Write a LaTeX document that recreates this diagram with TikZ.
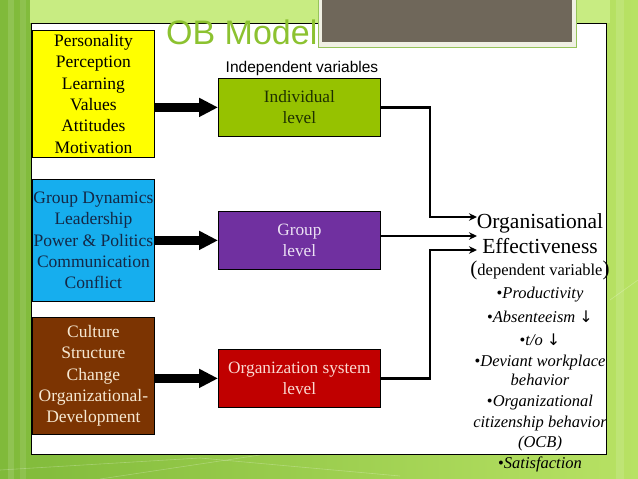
\documentclass[tikz,border=0pt]{standalone}
\usepackage{fontspec}
\setmainfont{Liberation Serif}
\newfontfamily\titlefont{Liberation Sans}
\newfontfamily\arrowfont{DejaVu Sans}
\usetikzlibrary{arrows.meta}
\definecolor{bgL}{RGB}{128,186,58}
\definecolor{bgR}{RGB}{184,226,100}
\definecolor{topband}{RGB}{200,236,130}
\definecolor{titlegreen}{RGB}{140,194,48}
\definecolor{yelfill}{RGB}{255,255,0}
\definecolor{bluefill}{RGB}{22,174,238}
\definecolor{brownfill}{RGB}{124,52,2}
\definecolor{greenfill}{RGB}{150,194,0}
\definecolor{purplefill}{RGB}{112,48,160}
\definecolor{redfill}{RGB}{192,0,0}
\definecolor{darkbluetext}{RGB}{20,40,70}
\definecolor{creamtext}{RGB}{246,232,210}
\definecolor{lavtext}{RGB}{236,226,244}
\definecolor{pinktext}{RGB}{250,218,210}
\definecolor{darkgreentext}{RGB}{30,48,0}
\definecolor{graybox}{RGB}{111,103,90}
\definecolor{creamedge}{RGB}{240,240,228}
\definecolor{greenedge}{RGB}{150,196,90}
\begin{document}
\begin{tikzpicture}[x=1pt,y=-1pt,
  srcbox/.style={draw=black, line width=0.8pt, anchor=north west, inner sep=0pt,
    minimum width=122pt, align=center, font=\fontsize{17.5}{21.3}\selectfont},
  lvlbox/.style={draw=black, line width=0.8pt, anchor=north west, inner sep=0pt,
    minimum width=162pt, minimum height=58pt, align=center, font=\fontsize{17.3}{21}\selectfont},
  bigarrow/.style={line width=8.5pt, -{Triangle[length=19pt,width=18pt]}},
  conn/.style={line width=2.8pt, -{Stealth[length=8pt,width=7.5pt]}},
  dep/.style={anchor=base, inner sep=0pt},
  depit/.style={anchor=base, inner sep=0pt, font=\fontsize{16.5}{20}\selectfont\itshape}]
\useasboundingbox (0,0) rectangle (638,479);
% background
\shade[left color=bgL, right color=bgR] (0,0) rectangle (638,479);
\fill[topband] (30,0) rectangle (610,23);
\fill[white, opacity=0.12] (8,0) rectangle (14,479);
\fill[white, opacity=0.10] (20,0) rectangle (26,479);
\fill[white, opacity=0.12] (616,0) rectangle (624,479);
\draw[white, opacity=0.25, line width=0.6pt] (0,470) -- (200,458) -- (400,476);
\draw[white, opacity=0.25, line width=0.6pt] (100,479) -- (260,455);
\draw[white, opacity=0.25, line width=0.6pt] (610,300) -- (638,280);
% white panel
\draw[fill=white, line width=0.8pt] (31,23) rectangle (606,454);
% gray box at top
\draw[fill=creamedge, draw=greenedge, line width=1pt] (318,-2) rectangle (576,47);
\fill[graybox] (322,-2) rectangle (572,42);
% title
\node[anchor=base west, inner sep=0pt, text=titlegreen, font=\titlefont\fontsize{34}{34}\selectfont] (title) at (166,45) {OB Model};
\node[anchor=base, inner sep=0pt, font=\titlefont\fontsize{15.5}{17}\selectfont] (indep) at (302,72) {Independent variables};
% source boxes
\node[srcbox, fill=yelfill, minimum height=127pt] (yel) at (32,30)
  {Personality\\Perception\\Learning\\Values\\Attitudes\\Motivation};
\node[srcbox, fill=bluefill, minimum height=122pt, text=darkbluetext] (blu) at (32,179)
  {Group Dynamics\\Leadership\\Power \& Politics\\Communication\\Conflict};
\node[srcbox, fill=brownfill, minimum height=117pt, text=creamtext] (brn) at (32,317)
  {Culture\\Structure\\Change\\Organizational-\\Development};
% level boxes
\node[lvlbox, fill=greenfill, text=darkgreentext] (ind) at (218,78) {Individual\\level};
\node[lvlbox, fill=purplefill, text=lavtext] (grp) at (218,211) {Group\\level};
\node[lvlbox, fill=redfill, text=pinktext] (orgs) at (218,349) {Organization system\\level};
% thick arrows
\draw[bigarrow] (yel.east |- ind.west) -- (ind.west);
\draw[bigarrow] (blu.east |- grp.west) -- (grp.west);
\draw[bigarrow] (brn.east |- orgs.west) -- (orgs.west);
% dependent variable text
\node[dep, font=\fontsize{21.5}{25}\selectfont] (oe1) at (540,228) {Organisational};
\node[dep, font=\fontsize{21.5}{25}\selectfont] (oe2) at (540,253) {Effectiveness};
\node[dep, font=\fontsize{16.5}{20}\selectfont] (dv) at (540,275)
  {{\fontsize{21}{25}\selectfont(}dependent variable{\fontsize{21}{25}\selectfont)}};
\node[depit] (b1) at (540,298) {\upshape•\itshape Productivity};
\node[depit] (b2) at (540,322) {\upshape•\itshape Absenteeism {\upshape\arrowfont\fontsize{16}{18}\selectfont ↓}};
\node[depit] (b3) at (540,345) {\upshape•\itshape t/o {\upshape\arrowfont\fontsize{16}{18}\selectfont ↓}};
\node[depit] (b4) at (540,366) {\upshape•\itshape Deviant workplace};
\node[depit] (b4b) at (540,385) {behavior};
\node[depit] (b5) at (540,406) {\upshape•\itshape Organizational};
\node[depit] (b5b) at (540,427) {citizenship behavior};
\node[depit] (b5c) at (540,447) {(OCB)};
\node[depit] (b6) at (540,468) {\upshape•\itshape Satisfaction};
% connectors
\coordinate (e1) at (477,217);
\coordinate (e2) at (477,236);
\coordinate (e3) at (477,250);
\coordinate (v) at (430,0);
\draw[conn] (ind.east) -| (v |- e1) -- (e1);
\draw[conn] (grp.east |- e2) -- (e2);
\draw[conn] (orgs.east) -| (v |- e3) -- (e3);
\end{tikzpicture}
\end{document}
